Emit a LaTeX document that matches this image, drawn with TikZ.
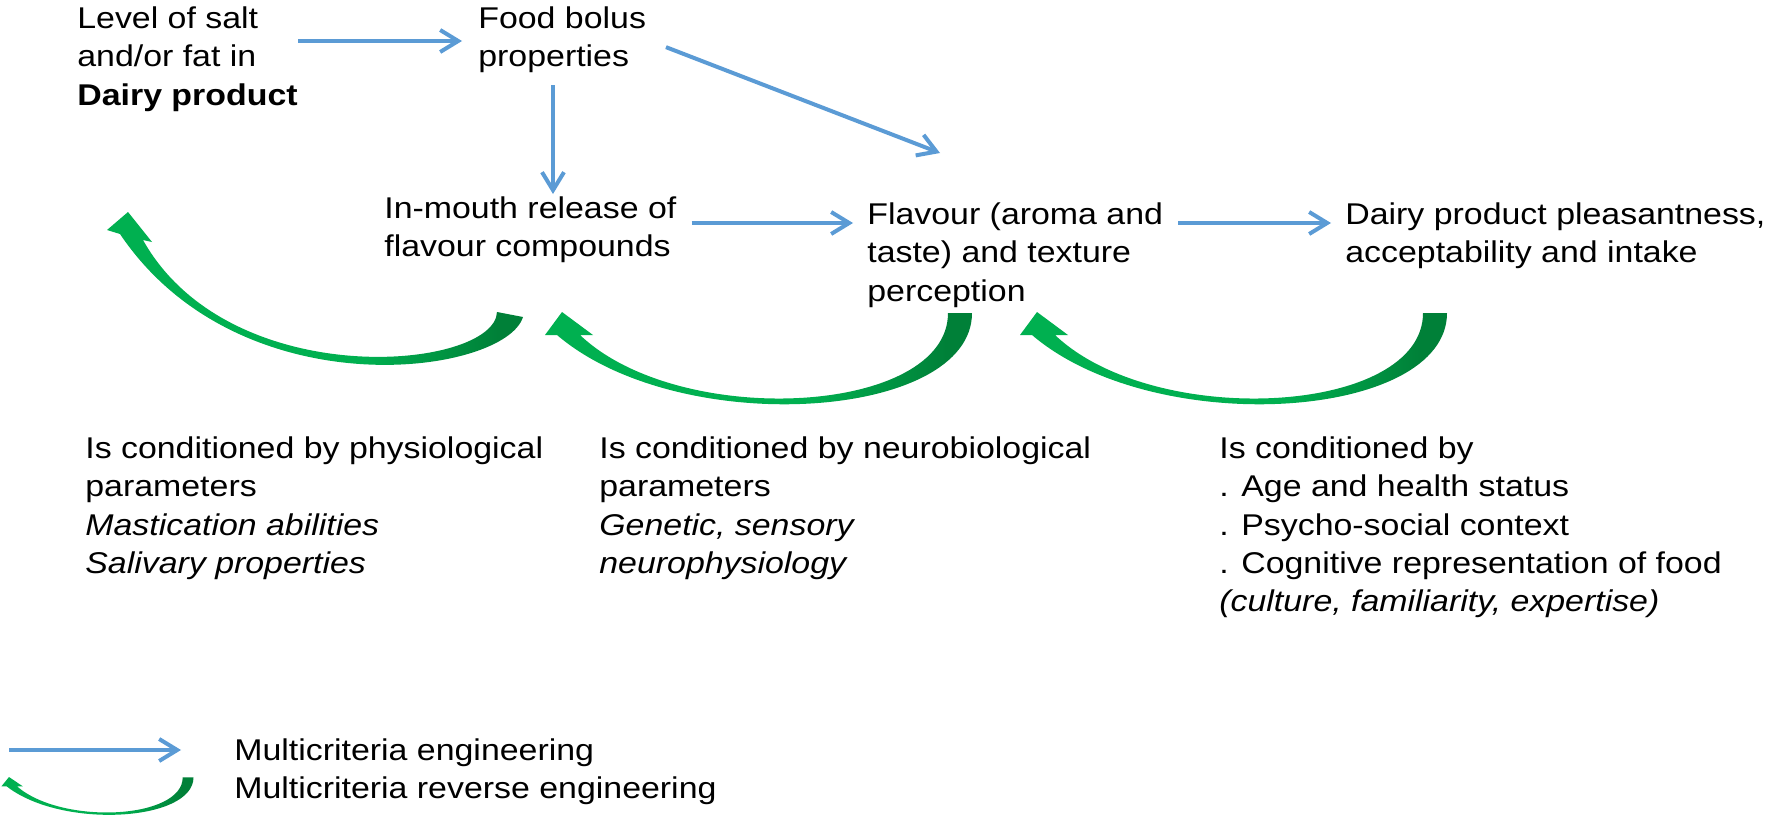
\documentclass[tikz,border=0pt]{standalone}
\usepackage{fontspec}
\setmainfont{Liberation Sans}[FakeStretch=1.13]
\usetikzlibrary{arrows.meta,calc}

\definecolor{flowblue}{RGB}{91,155,213}
\definecolor{revlight}{RGB}{0,176,80}
\definecolor{revdark}{RGB}{0,128,56}
\pgfdeclarehorizontalshading{revgreen}{100bp}{color(0bp)=(revlight); color(56bp)=(revlight); color(72bp)=(revdark); color(100bp)=(revdark)}

\begin{document}
\begin{tikzpicture}[
    x=0.02cm, y=-0.02cm,
    font=\fontsize{17.07pt}{21.9pt}\selectfont,
    txt/.style={anchor=north west, align=left, inner sep=0pt},
    fwd/.style={-{Straight Barb[length=3.6mm, width=4.4mm]}, flowblue, line width=0.8mm},
    pics/revflow/.style={code={
      \shade[shading=revgreen] (410,1) .. controls (410,108) and (118,128) .. (-5,23)
        -- (-17,23) -- (0,0) -- (31,23) -- (18,23)
        .. controls (118,118) and (386,103) .. (386,1) -- cycle;
    }},
    pics/revflowsteep/.style={code={
      \shade[shading=revgreen] (395,105) .. controls (377,163) and (112,200) .. (-8,22)
        -- (-21,18) -- (0,0) -- (24,30) -- (15,28)
        .. controls (102,183) and (367,158) .. (369,100) -- cycle;
    }},
  ]
  \useasboundingbox (0,0) rectangle (1772,821);

  \node[txt] (salt) at (77,6) {Level of salt\\and/or fat in\\\textbf{Dairy product}};
  \node[txt] (food) at (478,6) {Food bolus\\properties};
  \node[txt] (release) at (384,196) {In-mouth release of\\flavour compounds};
  \node[txt] (flavour) at (867,202) {Flavour (aroma and\\taste) and texture\\perception};
  \node[txt] (pleasant) at (1345,202) {Dairy product pleasantness,\\acceptability and intake};

  \node[txt] (physio) at (85,436) {Is conditioned by physiological\\parameters\\\textit{Mastication abilities}\\\textit{Salivary properties}};
  \node[txt] (neuro) at (599,436) {Is conditioned by neurobiological\\parameters\\\textit{Genetic, sensory}\\\textit{neurophysiology}};
  \node[txt] (context) at (1219,436) {Is conditioned by\\. Age and health status\\. Psycho-social context\\. Cognitive representation of food\\\textit{(culture, familiarity, expertise)}};

  \node[txt] (legend) at (234,738) {Multicriteria engineering\\Multicriteria reverse engineering};

  % rows and columns the blue arrows run along
  \coordinate (r1) at (0,41);
  \coordinate (r2) at (0,223);
  \coordinate (c1) at (553,0);
  \coordinate (lgs) at (9,750);

  \draw[fwd, shorten >=3.2mm] (salt.east |- r1) -- (food.west |- r1);
  \draw[fwd, shorten <=2.4mm, shorten >=0.4mm] (c1 |- food.south) -- (c1 |- release.north);
  \draw[fwd, shorten <=4.2mm] (food.east) -- ([shift={(73,-49)}]flavour.north west);
  \draw[fwd, shorten <=3mm, shorten >=2.8mm] (release.east |- r2) -- (flavour.west |- r2);
  \draw[fwd, shorten <=3mm, shorten >=2.8mm] (flavour.east |- r2) -- (pleasant.west |- r2);
  \draw[fwd, shorten >=10.6mm] (lgs) -- (legend.west |- lgs);

  % reverse engineering arrows
  \pic at (128,212) {revflowsteep};
  \pic at (562,312) {revflow};
  \pic at (1037,312) {revflow};
  \pic[xscale=0.45, yscale=0.41] at (9,777) {revflow};
\end{tikzpicture}
\end{document}
